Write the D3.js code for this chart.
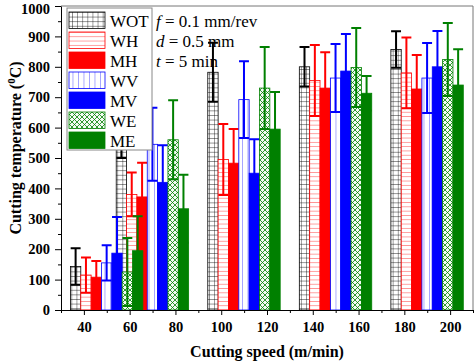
<!DOCTYPE html>
<html>
<head>
<meta charset="utf-8">
<script src="https://cdn.jsdelivr.net/npm/d3@7"></script>
<style>
  body { margin: 0; background: #fff; }
  text { font-family: "Liberation Serif", "Times New Roman", serif; }
</style>
</head>
<body>
<svg id="chart" width="474" height="361"></svg>
<script>
const speeds = [40, 60, 100, 140, 180];
const tickSpeeds = [40, 60, 80, 100, 120, 140, 160, 180, 200];
const seriesNames = ["WOT", "WH", "MH", "WV", "MV", "WE", "ME"];

// mean cutting temperature per speed
const WOT = [143, 560, 782, 800, 857];
const WH = [115, 380, 495, 755, 780];
const MH = [108, 372, 483, 730, 727];
const WV = [155, 545, 692, 763, 763];
const MV = [187, 420, 450, 786, 800];
const WE = [125, 560, 730, 798, 824];
const ME = [195, 333, 595, 713, 740];

// error (+/-)
const WOTerr = [60, 60, 97, 65, 60];
const WHerr = [58, 72, 117, 117, 116];
const MHerr = [53, 112, 112, 118, 112];
const WVerr = [58, 120, 126, 112, 115];
const MVerr = [119, 122, 112, 122, 118];
const WEerr = [112, 130, 135, 130, 120];
const MEerr = [113, 112, 122, 57, 118];

const values = [WOT, WH, MH, WV, MV, WE, ME];
const errors = [WOTerr, WHerr, MHerr, WVerr, MVerr, WEerr, MEerr];

const colors = ["#000000", "#ff0000", "#ff0000", "#0000ff", "#0000ff", "#008000", "#008000"];
const fills = ["url(#p_grid)", "url(#p_hline)", "#ff0000", "url(#p_vline)", "#0000ff", "url(#p_cross)", "#008000"];

const width = 474, height = 361;
const x = d3.scaleLinear().domain([30, 210]).range([61, 473]);
const y = d3.scaleLinear().domain([0, 1000]).range([310, 6]);
const barUnits = 4.52; // bar width in speed units
const bw = x(barUnits) - x(0);

const svg = d3.select("#chart");
const defs = svg.append("defs");

// patterns
const pg = defs.append("pattern").attr("id", "p_grid").attr("patternUnits", "userSpaceOnUse")
  .attr("width", 5.1).attr("height", 4.6);
pg.append("rect").attr("width", 5.1).attr("height", 4.6).attr("fill", "#fff");
pg.append("path").attr("d", "M0,0H5.1M0,0V4.6").attr("stroke", "#000").attr("stroke-width", 0.8);

const ph = defs.append("pattern").attr("id", "p_hline").attr("patternUnits", "userSpaceOnUse")
  .attr("width", 6).attr("height", 4.3);
ph.append("rect").attr("width", 6).attr("height", 4.3).attr("fill", "#fff");
ph.append("path").attr("d", "M0,0H6").attr("stroke", "#ff0000").attr("stroke-width", 0.8);

const pv = defs.append("pattern").attr("id", "p_vline").attr("patternUnits", "userSpaceOnUse")
  .attr("width", 5.5).attr("height", 6);
pv.append("rect").attr("width", 5.5).attr("height", 6).attr("fill", "#fff");
pv.append("path").attr("d", "M0,0V6").attr("stroke", "#0000ff").attr("stroke-width", 0.7);

const pc = defs.append("pattern").attr("id", "p_cross").attr("patternUnits", "userSpaceOnUse")
  .attr("width", 5).attr("height", 5);
pc.append("rect").attr("width", 5).attr("height", 5).attr("fill", "#f4faf4");
pc.append("path").attr("d", "M0,0L5,5M5,0L0,5").attr("stroke", "#008000").attr("stroke-width", 0.8);

// plot frame (top/right)
svg.append("path")
  .attr("d", `M${x(30)},${y(1000)}H${x(210)}V${y(0)}`)
  .attr("fill", "none").attr("stroke", "#777").attr("stroke-width", 1);

// bars, series by series
seriesNames.forEach((name, i) => {
  const g = svg.append("g").attr("class", "series-" + name);
  speeds.forEach((s, j) => {
    const x0 = x(s + (i - 1.3) * barUnits);
    const v = values[i][j], e = errors[i][j];
    g.append("rect")
      .attr("x", x0).attr("y", y(v))
      .attr("width", bw).attr("height", y(0) - y(v))
      .attr("fill", fills[i])
      .attr("stroke", colors[i]).attr("stroke-width", 0.8);
    const cx = x0 + bw / 2, cap = bw * 0.48;
    g.append("path")
      .attr("d", `M${cx},${y(v + e)}V${y(v - e)}M${cx - cap},${y(v + e)}H${cx + cap}M${cx - cap},${y(v - e)}H${cx + cap}`)
      .attr("stroke", colors[i]).attr("stroke-width", 2).attr("fill", "none");
  });
});

// axes
const bold = (sel) => sel.selectAll("text")
  .attr("font-family", "'Liberation Serif', 'Times New Roman', serif")
  .attr("font-weight", "bold").attr("font-size", "14.5px").attr("fill", "#000");

svg.append("g").attr("transform", `translate(0,${y(0)})`)
  .call(d3.axisBottom(x).tickValues(d3.range(30, 211, 20)).tickSize(3).tickFormat(""))
  .call(g => g.select(".domain").remove());
svg.append("g").attr("transform", `translate(0,${y(0)})`)
  .call(d3.axisBottom(x).tickValues(tickSpeeds).tickSize(5).tickPadding(7).tickSizeOuter(0).tickFormat(d3.format("d")))
  .call(bold);

svg.append("g").attr("transform", `translate(${x(30)},0)`)
  .call(d3.axisLeft(y).tickValues(d3.range(50, 1000, 100)).tickSize(3).tickFormat(""))
  .call(g => g.select(".domain").remove());
svg.append("g").attr("transform", `translate(${x(30)},0)`)
  .call(d3.axisLeft(y).tickValues(d3.range(0, 1001, 100)).tickSize(6).tickPadding(5).tickSizeOuter(0).tickFormat(d3.format("d")))
  .call(bold)
  .call(g => g.selectAll(".tick text").filter(d => d === 1000).attr("dy", "0.5em"));

// axis titles
svg.append("text")
  .attr("x", 267).attr("y", 357)
  .attr("text-anchor", "middle").attr("font-weight", "bold").attr("font-size", "16px")
  .text("Cutting speed (m/min)");

const yt = svg.append("text")
  .attr("transform", "translate(21,148) rotate(-90)")
  .attr("text-anchor", "middle").attr("font-weight", "bold").attr("font-size", "16px");
yt.append("tspan").text("Cutting temperature (");
yt.append("tspan").attr("dy", -6).attr("font-size", "11px").text("0");
yt.append("tspan").attr("dy", 6).text("C)");

// legend
const lg = svg.append("g").attr("transform", "translate(67,8)");
lg.append("rect").attr("width", 85).attr("height", 142)
  .attr("fill", "#fff").attr("stroke", "#888").attr("stroke-width", 1);
seriesNames.forEach((name, i) => {
  const row = lg.append("g").attr("transform", `translate(0,${4 + i * 20})`);
  row.append("rect").attr("x", 2).attr("y", 0).attr("width", 36).attr("height", 16.5)
    .attr("fill", fills[i]).attr("stroke", colors[i]).attr("stroke-width", 0.8);
  row.append("text").attr("x", 43).attr("y", 15).attr("font-size", "17px").text(name);
});

// annotation
const notes = [["f", " = 0.1 mm/rev"], ["d", " = 0.5 mm"], ["t", " = 5 min"]];
notes.forEach((n, i) => {
  const t = svg.append("text").attr("x", 156).attr("y", 27 + i * 20).attr("font-size", "17px");
  t.append("tspan").attr("font-style", "italic").text(n[0]);
  t.append("tspan").text(n[1]);
});
</script>
</body>
</html>
